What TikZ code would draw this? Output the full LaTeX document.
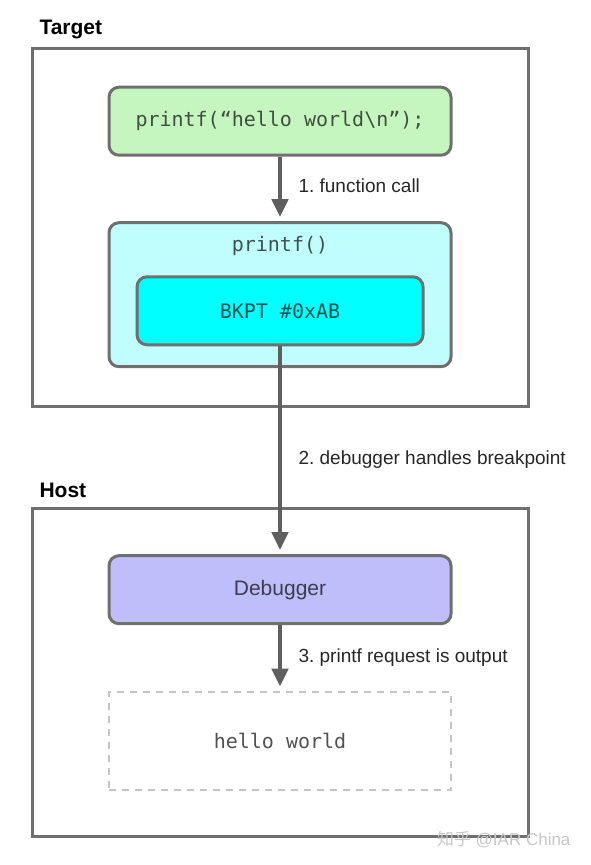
\documentclass[tikz,border=0pt]{standalone}
\usepackage{fontspec}
\setmainfont{Liberation Sans}
\setmonofont{DejaVu Sans Mono}
\newfontfamily\cjkfont{Noto Sans CJK SC}
\usetikzlibrary{arrows.meta}
\frenchspacing
\definecolor{frameline}{HTML}{6F6F6F}
\definecolor{flowgray}{HTML}{5E5E5E}
\definecolor{callgreen}{HTML}{C6F6C0}
\definecolor{fnlight}{HTML}{C0FDFD}
\definecolor{bkptcyan}{HTML}{00FFFF}
\definecolor{dbgblue}{HTML}{BEBEFA}
\definecolor{outdash}{HTML}{C4C4C4}
\tikzset{
	sysbox/.style={draw=frameline,line width=3pt,minimum width=496pt},
	systitle/.style={anchor=base west,font=\bfseries\fontsize{21}{25}\selectfont},
	codetext/.style={font=\ttfamily\fontsize{20}{24}\selectfont,text=black,text opacity=0.68},
	codebox/.style={codetext,draw=frameline,line width=3pt,rounded corners=10pt,minimum width=342pt,minimum height=68pt},
	flow/.style={draw=flowgray,line width=4.5pt,-{Triangle[length=18pt,width=16pt]},shorten >=4pt},
	steplabel/.style={anchor=base west,font=\fontsize{19}{23}\selectfont,text=black!85}
}
\begin{document}
\begin{tikzpicture}[x=1pt,y=-1pt]
	\useasboundingbox (0,0) rectangle (590,865);
	% target and host
	\node[sysbox,minimum height=358pt] (target) at (280,227.5) {};
	\node[sysbox,minimum height=328pt] (host) at (280,672) {};
	\node[systitle] (ttarget) at (36,34.5) {Target};
	\node[systitle] (thost) at (36,497) {Host};
	% boxes
	\node[codebox,fill=callgreen] (call) at (280,121.2) {printf(“hello world\textbackslash n”);};
	\node[codebox,fill=fnlight,minimum height=144pt] (fn) at (280,294.7) {};
	\node[codetext] (fnname) at (280,246) {printf()};
	\node[codebox,fill=bkptcyan,minimum width=286pt] (bkpt) at (280,310.8) {BKPT \#0xAB};
	\node[codebox,fill=dbgblue,font=\fontsize{21}{25}\selectfont] (dbg) at (280,589.7) {Debugger};
	\node[codebox,draw=outdash,line width=2.5pt,sharp corners,dash pattern=on 7pt off 6pt,minimum height=98pt] (out) at (280,740.8) {hello world};
	% steps
	\draw[flow] (call) -- (fn);
	\draw[flow] (bkpt) -- (dbg);
	\draw[flow] (dbg) -- (out);
	\node[steplabel] (lcall) at (295,192) {1. function call};
	\node[steplabel] (lbrk) at (295,464) {2. debugger handles breakpoint};
	\node[steplabel] (lout) at (295,662.5) {3. printf request is output};
	\node[anchor=base east,text=black!22,font=\fontsize{17}{21}\selectfont] (mark) at (574,845) {{\cjkfont 知乎} @IAR China};
\end{tikzpicture}
\end{document}
